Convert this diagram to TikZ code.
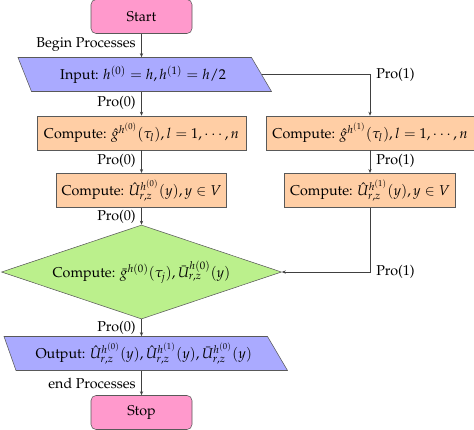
\documentclass[tikz,border=0pt]{standalone}
\usepackage[T1]{fontenc}
\usepackage{mathpazo}
\usetikzlibrary{arrows.meta,shapes.geometric,backgrounds,calc}
\definecolor{pinkF}{RGB}{255,153,204}
\definecolor{blueF}{RGB}{170,170,255}
\definecolor{peachF}{RGB}{255,206,165}
\definecolor{greenF}{RGB}{187,240,140}
\begin{document}
\begin{tikzpicture}[x=0.75pt,y=-0.75pt,font=\fontsize{10.7}{13}\selectfont,
  term/.style={draw=black!65, fill=pinkF, rounded corners=3.75pt, minimum width=101*0.75pt, minimum height=34*0.75pt, inner sep=0pt},
  proc/.style={draw=black!65, fill=peachF, minimum height=34*0.75pt, inner sep=0pt},
  iobox/.style={minimum height=34*0.75pt, inner sep=0pt},
  iofill/.style={draw=black!65, fill=blueF},
  dec/.style={diamond, draw=black!65, fill=greenF, shape aspect=3.2, inner sep=0pt, minimum width=280*0.75pt, minimum height=94*0.75pt},
  lbl/.style={inner sep=0pt},
  arr/.style={draw=black!75, line width=0.7pt, -{Stealth[length=3pt,width=2.4pt]}}]
\useasboundingbox (0,0) rectangle (474,429);
\node[term] (start) at (141.5,16.5) {Start};
\node[iobox, minimum width=236.75*0.75pt] (in) at (143.1,74.5) {Input: $h^{(0)}=h, h^{(1)}=h/2$};
\node[proc, minimum width=209*0.75pt] (c1l) at (141.5,133) {Compute: $\hat{g}^{h^{(0)}}(\tau_l), l=1,\cdots,n$};
\node[proc, minimum width=208*0.75pt] (c1r) at (370,133) {Compute: $\hat{g}^{h^{(1)}}(\tau_l), l=1,\cdots,n$};
\node[proc, minimum width=170*0.75pt] (c2l) at (141.5,190.3) {Compute: $\hat{U}^{h^{(0)}}_{r,z}(y), y\in V$};
\node[proc, minimum width=171*0.75pt] (c2r) at (370,190.3) {Compute: $\hat{U}^{h^{(1)}}_{r,z}(y), y\in V$};
\node[dec] (dec) at (141.5,272) {Compute: $\bar{g}^{h(0)}(\tau_j), \bar{U}^{h(0)}_{r,z}(y)$};
\node[iobox, minimum width=267.5*0.75pt] (out) at (143.75,353.5) {Output: $\hat{U}^{h^{(0)}}_{r,z}(y), \hat{U}^{h^{(1)}}_{r,z}(y), \bar{U}^{h^{(0)}}_{r,z}(y)$};
\node[term] (stop) at (141.5,412.5) {Stop};
\begin{scope}[on background layer]
\draw[iofill] (18,57.5) -- (251.5,57.5) -- (271.5,91.5) -- (31.5,91.5) -- cycle;
\draw[iofill] (4,336.5) -- (267.5,336.5) -- (287.5,370.5) -- (16,370.5) -- cycle;
\end{scope}
\draw[arr] (start.south) -- (start.south |- in.north);
\draw[arr] (c1l.north |- in.south) -- (c1l.north);
\draw[arr] (in.east) -| (c1r.north);
\draw[arr] (c1l) -- (c2l);
\draw[arr] (c1r) -- (c2r);
\draw[arr] (c2l) -- (dec);
\draw[arr] (c2r.south) |- (dec.east);
\draw[arr] (dec.south) -- (dec.south |- out.north);
\draw[arr] (stop.north |- out.south) -- (stop.north);
\node[lbl, anchor=east] (l1) at (136,45) {Begin Processes};
\node[lbl, anchor=east] (l2) at (136,103) {Pro(0)};
\node[lbl, anchor=west] (l3) at (376,74.5) {Pro(1)};
\node[lbl, anchor=east] (l4) at (136,161) {Pro(0)};
\node[lbl, anchor=west] (l5) at (376,161) {Pro(1)};
\node[lbl, anchor=east] (l6) at (136,217) {Pro(0)};
\node[lbl, anchor=west] (l7) at (376,272) {Pro(1)};
\node[lbl, anchor=east] (l8) at (136,328) {Pro(0)};
\node[lbl, anchor=east] (l9) at (136,383) {end Processes};
\end{tikzpicture}
\end{document}
